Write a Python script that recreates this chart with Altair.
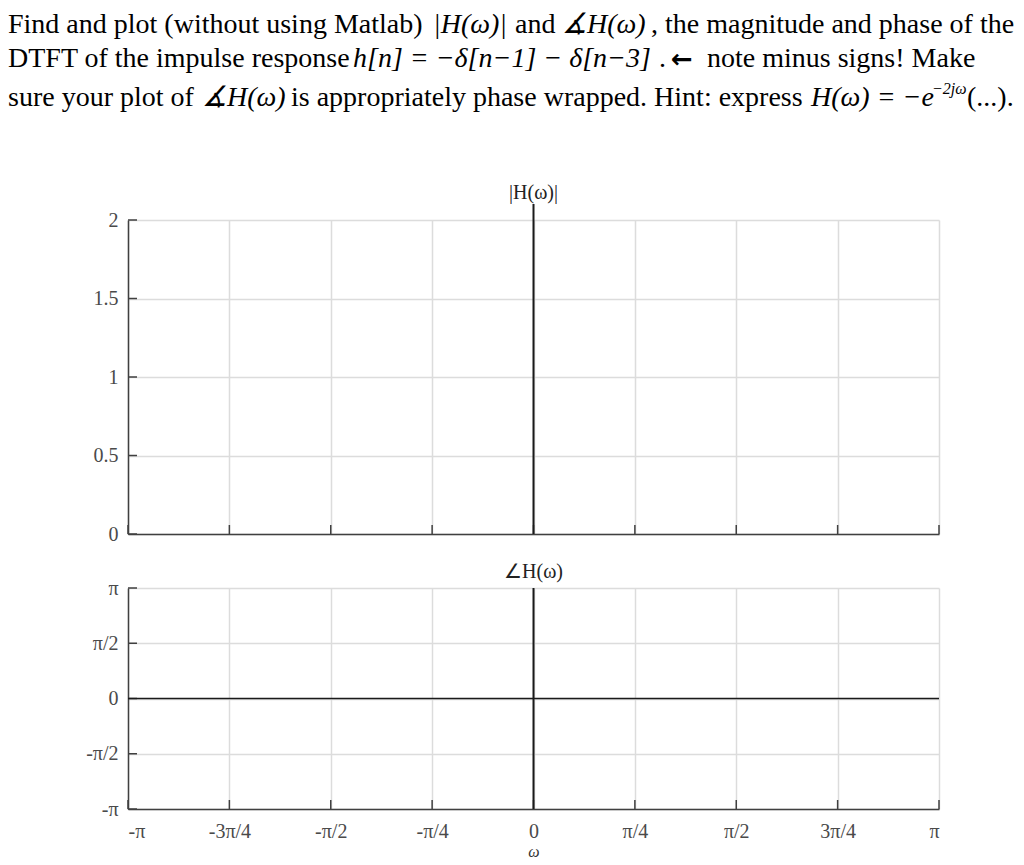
import math
import altair as alt
import pandas as pd

PI = math.pi

# ---- axis ticks / labels ----
omega_ticks = [-PI, -3 * PI / 4, -PI / 2, -PI / 4, 0, PI / 4, PI / 2, 3 * PI / 4, PI]
omega_labels = ["-π", "-3π/4", "-π/2", "-π/4", "0", "π/4", "π/2", "3π/4", "π"]
mag_ticks = [0, 0.5, 1, 1.5, 2]
mag_labels = ["0", "0.5", "1", "1.5", "2"]
phase_ticks = [-PI, -PI / 2, 0, PI / 2, PI]
phase_labels = ["-π", "-π/2", "0", "π/2", "π"]
zero_line = [0]

# ---- header text: (text, page-x, style, weight, font, font size, page-top) ----
SERIF = "Liberation Serif"
header_segments = [
    ("Find and plot (without using Matlab)", 7, "normal", "normal", SERIF, 28, 11),
    ("|H(ω)|", 432, "italic", "normal", SERIF, 28, 11),
    ("and", 514, "normal", "normal", SERIF, 28, 11),
    ("∡H(ω)", 561, "italic", "normal", SERIF, 28, 11),
    (", the magnitude and phase of the", 650, "normal", "normal", SERIF, 28, 11),
    ("DTFT of the impulse response", 7, "normal", "normal", SERIF, 28, 45),
    ("h[n] = −δ[n−1] − δ[n−3]", 352, "italic", "normal", SERIF, 28, 45),
    (".", 658, "normal", "normal", SERIF, 28, 45),
    ("←", 670, "normal", "bold", "DejaVu Sans", 26, 47),
    ("note minus signs! Make", 706, "normal", "normal", SERIF, 28, 45),
    ("sure your plot of", 7, "normal", "normal", SERIF, 28, 84),
    ("∡H(ω)", 201, "italic", "normal", SERIF, 28, 84),
    ("is appropriately phase wrapped. Hint: express", 290, "normal", "normal", SERIF, 28, 84),
    ("H(ω) = −e", 810, "italic", "normal", SERIF, 28, 84),
    ("−2jω", 931, "italic", "normal", SERIF, 16, 81),
    ("(...).", 966, "normal", "normal", SERIF, 28, 84),
]

W = 811
H1 = 314
H2 = 221
PLOT_LEFT = 127
PLOT_TOP = 220
PAGE_TOP = 8
TICK = 9

FONT = SERIF
AXIS_DARK = "#404040"
GRID = "#dcdcdc"
LABEL = "#4a4a4a"

one = alt.Data(values=[{}])
x_scale = alt.Scale(domain=[-PI, PI], nice=False, zero=False)


def label_expr(labels, step, offset):
    arr = "[" + ",".join("'" + s + "'" for s in labels) + "]"
    return f"{arr}[round(datum.value/({step}))+{offset}]"


def text_layer(txt, x, y, size=20, style="normal", align="left", color="#000000",
               baseline="alphabetic", weight="normal", font=FONT):
    return alt.Chart(one).mark_text(
        text=txt, font=font, fontSize=size, fontStyle=style, fontWeight=weight,
        align=align, baseline=baseline, color=color
    ).encode(x=alt.value(x), y=alt.value(y))


# ---------------- top panel: |H(w)| ----------------
df_w = pd.DataFrame({"w": omega_ticks})
df_m = pd.DataFrame({"m": mag_ticks})
df_zero = pd.DataFrame({"z": zero_line})

top_xticks = alt.Chart(df_w).mark_rule(color=AXIS_DARK, strokeWidth=1.5).encode(
    x=alt.X("w:Q", scale=x_scale,
            axis=alt.Axis(values=omega_ticks, labels=False, ticks=False, title=None,
                          grid=True, gridColor=GRID, gridWidth=1.5,
                          domainColor=AXIS_DARK, domainWidth=1.5)),
    y=alt.value(H1), y2=alt.value(H1 - TICK),
)
top_yticks = alt.Chart(df_m).mark_rule(color=AXIS_DARK, strokeWidth=1.5).encode(
    y=alt.Y("m:Q", scale=alt.Scale(domain=[0, 2], nice=False, zero=False),
            axis=alt.Axis(values=mag_ticks, labelExpr=label_expr(mag_labels, 0.5, 0),
                          ticks=False, tickSize=0, labelPadding=10, title=None,
                          grid=True, gridColor=GRID, gridWidth=1.5,
                          domainColor=AXIS_DARK, domainWidth=1.5)),
    x=alt.value(0), x2=alt.value(TICK),
)
top_zero = alt.Chart(df_zero).mark_rule(color="#1a1a1a", strokeWidth=2).encode(
    x=alt.X("z:Q", scale=x_scale), y=alt.value(-16), y2=alt.value(H1)
)

# invisible anchor that pins the top edge of the drawing to the page top
anchor = alt.Chart(one).mark_rule(strokeOpacity=0, strokeWidth=0.01).encode(
    x=alt.value(0), x2=alt.value(1),
    y=alt.value(PAGE_TOP - PLOT_TOP), y2=alt.value(PAGE_TOP - PLOT_TOP),
)

header_layers = [
    text_layer(txt, px - PLOT_LEFT, top - PLOT_TOP, size=size, style=style,
               weight=weight, font=font, baseline="top")
    for txt, px, style, weight, font, size, top in header_segments
]

top_title = text_layer("|H(ω)|", W / 2, -27, size=20, align="center", color="#222222",
                       baseline="middle")

top = alt.layer(top_xticks, top_yticks, top_zero, top_title, anchor, *header_layers).properties(
    width=W, height=H1
)

# ---------------- bottom panel: phase ----------------
df_p = pd.DataFrame({"p": phase_ticks})
p_scale = alt.Scale(domain=[-PI, PI], nice=False, zero=False)

bot_xticks = alt.Chart(df_w).mark_rule(color=AXIS_DARK, strokeWidth=1.5).encode(
    x=alt.X("w:Q", scale=x_scale,
            axis=alt.Axis(values=omega_ticks, labelExpr=label_expr(omega_labels, "PI/4", 4),
                          ticks=False, tickSize=0, labelPadding=12,
                          title="ω", titleFont=FONT, titleFontStyle="italic",
                          titleFontSize=16, titleFontWeight="normal", titleColor="#333333",
                          titlePadding=2,
                          grid=True, gridColor=GRID, gridWidth=1.5,
                          domainColor=AXIS_DARK, domainWidth=1.5)),
    y=alt.value(H2), y2=alt.value(H2 - TICK),
)
bot_yticks = alt.Chart(df_p).mark_rule(color=AXIS_DARK, strokeWidth=1.5).encode(
    y=alt.Y("p:Q", scale=p_scale,
            axis=alt.Axis(values=phase_ticks, labelExpr=label_expr(phase_labels, "PI/2", 2),
                          ticks=False, tickSize=0, labelPadding=10, title=None,
                          grid=True, gridColor=GRID, gridWidth=1.5,
                          domainColor=AXIS_DARK, domainWidth=1.5)),
    x=alt.value(0), x2=alt.value(TICK),
)
bot_vzero = alt.Chart(df_zero).mark_rule(color="#1a1a1a", strokeWidth=2).encode(
    x=alt.X("z:Q", scale=x_scale), y=alt.value(0), y2=alt.value(H2)
)
bot_hzero = alt.Chart(df_zero).mark_rule(color="#1a1a1a", strokeWidth=1.5).encode(
    y=alt.Y("z:Q", scale=p_scale), x=alt.value(0), x2=alt.value(W)
)
bot_title = text_layer("∠H(ω)", W / 2, -16, size=20, align="center", color="#222222",
                       baseline="middle")

bottom = alt.layer(bot_xticks, bot_yticks, bot_vzero, bot_hzero, bot_title).properties(
    width=W, height=H2
)

chart = alt.vconcat(top, bottom, spacing=54, bounds="flush").properties(
    padding={"left": 0, "top": 0, "right": 0, "bottom": 0}
).configure_view(stroke=None).configure_axis(
    labelFont=FONT, labelFontSize=20, labelColor=LABEL, titleFont=FONT
)

chart.save("out.html", embed_options={"renderer": "svg", "actions": False})
